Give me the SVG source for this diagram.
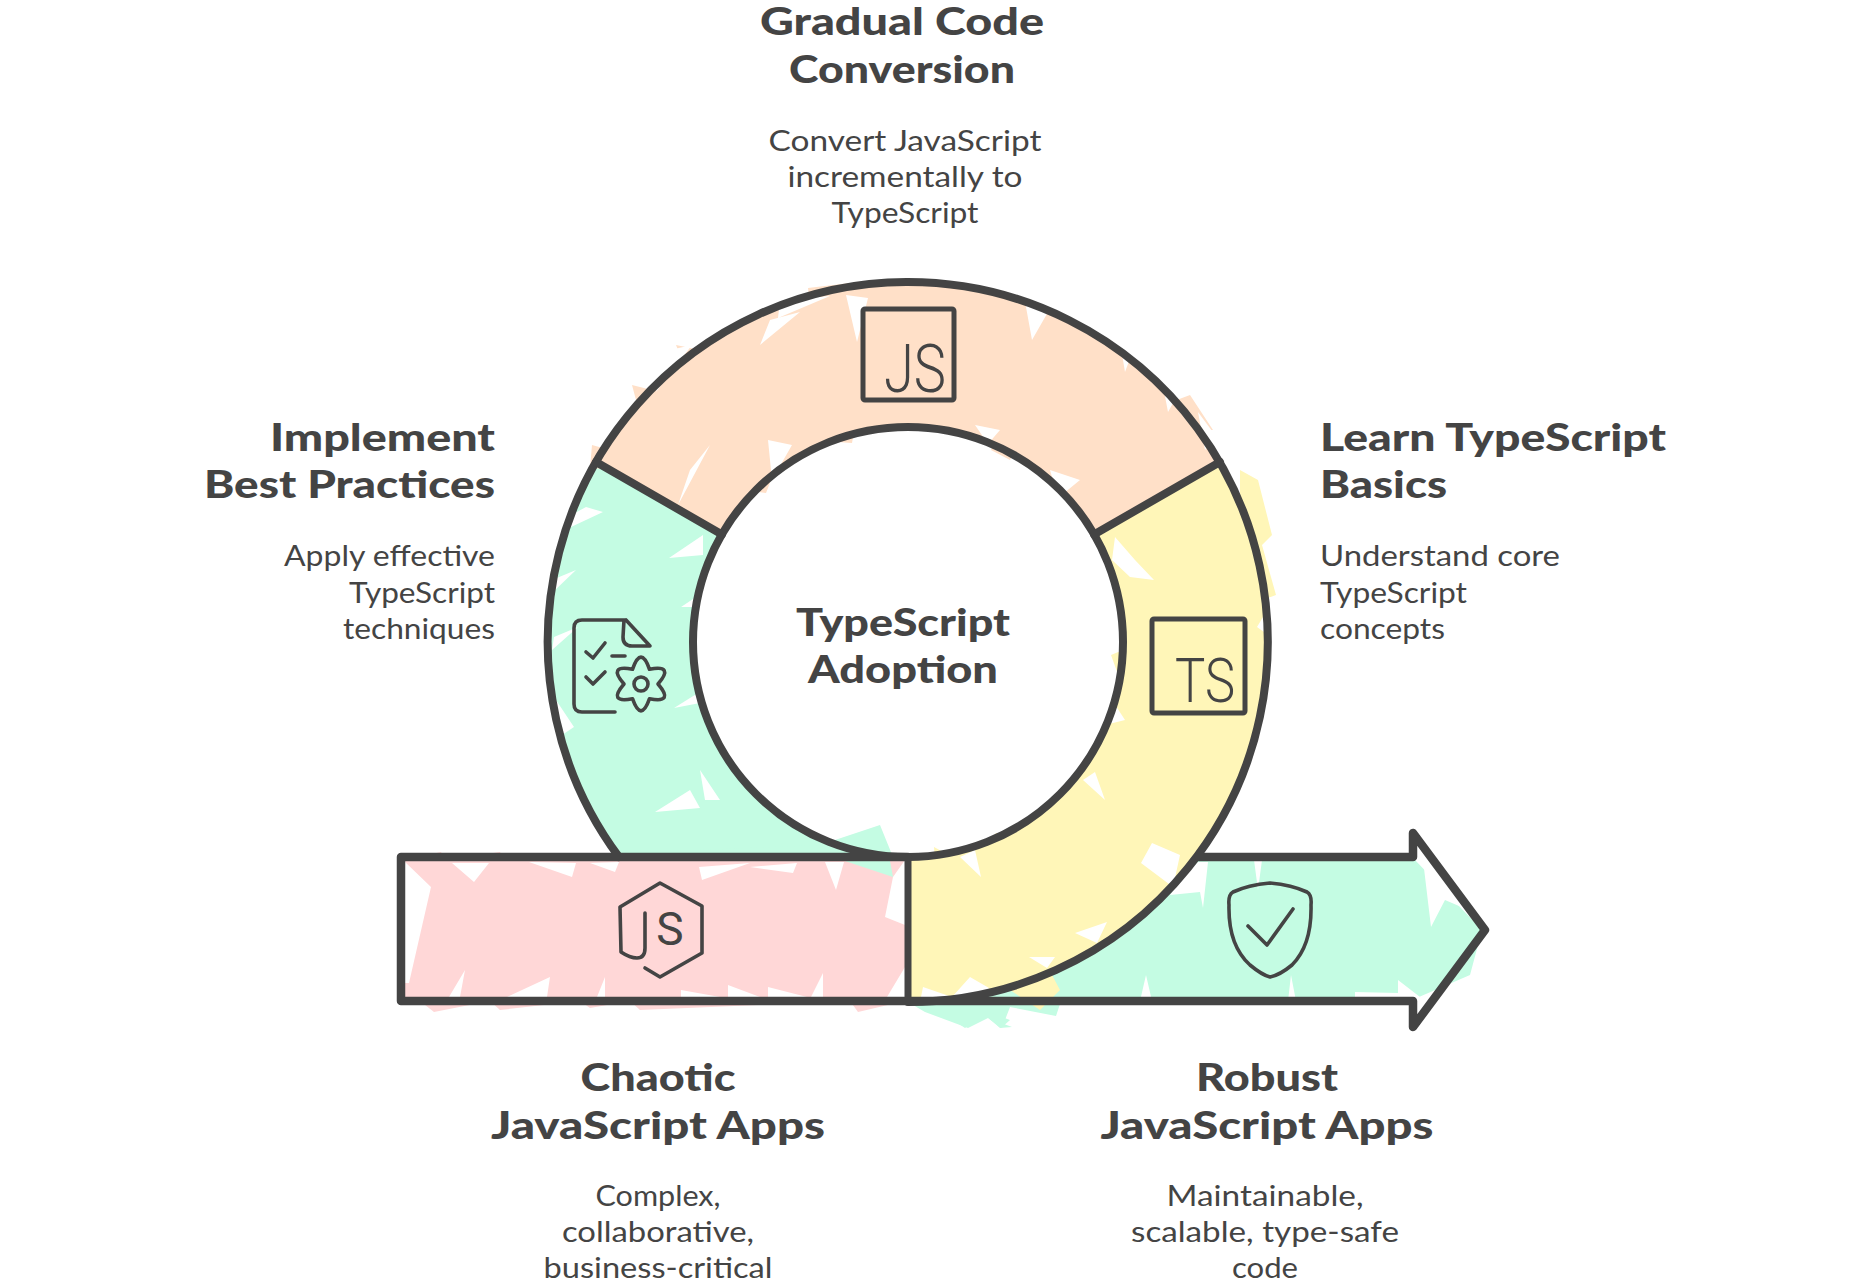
<svg xmlns="http://www.w3.org/2000/svg" width="1873" height="1287" viewBox="0 0 1873 1287">
<style>
.t{font-family:"Lato","Liberation Sans",sans-serif;font-weight:900;font-size:37px;fill:#444}
.d{font-family:"Lato","Liberation Sans",sans-serif;font-weight:400;font-size:29px;fill:#444}
.o{fill:none;stroke:#444;stroke-width:8;stroke-linecap:round;stroke-linejoin:round}
.b{fill:none;stroke:#444;stroke-width:8.5;stroke-linecap:round;stroke-linejoin:round}
.i{fill:none;stroke:#444;stroke-width:3.6;stroke-linecap:round;stroke-linejoin:round}
.g{font-family:"Roboto","Liberation Sans",sans-serif;font-weight:300;fill:#444}
.m{fill:#c4fce3}.p{fill:#ffe0c8}.y{fill:#fff6b8}.r{fill:#ffd7d7}.w{fill:#fff}
.mid{text-anchor:middle}.end{text-anchor:end}
</style>
<rect width="1873" height="1287" fill="#fff"/>

<g id="fills">
  <!-- arrow hachure -->
  <path class="m" d="M905 1001L1190 860L1415 860L1482 930L1470 975L1412 1000L1100 1003L1060 1004L1056 1016L1010 1007L1005 1020L972 1012L1012 1027L1000 1028L985 1015L965 1028L935 1008L908 1004Z"/>
  <path class="m" d="M908 1002L960 1002L1010 1020L1001 1028L988 1018L968 1028L925 1012Z"/>
  <path class="w" d="M1198 862L1208 862L1203 908L1200 892L1170 895L1180 880ZM1262 860L1258 890L1254 860ZM1423 860L1431 927L1445 900L1480 915L1440 855ZM1355 992L1398 993L1398 980L1420 997L1420 1001L1355 1001ZM1288 1001L1291 975L1296 1001ZM1140 1001L1146 975L1152 1001Z"/>
  <!-- ring sectors -->
  <path class="m" d="M596 462A360 360 0 0 0 619 857L908 857A215 215 0 0 1 722 534.5Z"/>
  <path class="m" d="M700 850L820 845L880 825L895 862L720 885Z"/>
  <path class="p" d="M596 462A360 360 0 0 1 1220 462L1094 534.5A215 215 0 0 0 722 534.5Z"/>
  <path class="p" d="M676 345L700 350L715 365L690 380ZM632 385L660 392L665 410L640 415ZM592 445L610 450L620 470L590 468ZM808 288L850 283L850 300L810 305ZM810 440L852 443L856 420L815 425ZM745 490L766 493L775 470L755 470ZM991 450L1010 460L1020 440L1000 430ZM1086 523L1100 525L1100 490L1086 495ZM1150 410L1190 395L1213 430L1170 430Z"/>
  <path class="y" d="M1220 462A360 360 0 0 1 908 1002L908 857A215 215 0 0 0 1094 534.5Z"/>
  <path class="y" d="M1240 470L1258 480L1272 535L1262 545L1276 595L1262 600L1240 560ZM1123 650L1111 655L1120 680L1108 712L1125 700ZM996 833L1010 838L1000 850L985 846ZM934 847L945 853L935 860ZM1010 990L1052 975L1060 990L1040 1010Z"/>
  <!-- inset white slivers -->
  <path class="w" d="M846 295L857 342L868 298ZM1024 296L1032 340L1052 305ZM1118 330L1125 372L1135 345ZM1160 370L1168 412L1185 382ZM1198 412L1205 450L1215 435ZM670 350L656 392L692 345ZM770 320L760 345L800 312ZM768 440L772 480L792 445ZM690 470L678 505L710 445ZM975 425L988 444L1000 430ZM1050 470L1058 498L1080 480ZM780 300L778 318L830 296Z"/>
  <path class="w" d="M586 507L603 512L571 527L562 520ZM552 580L576 570L552 593ZM669 558L703 535L703 555ZM681 607L696 597L694 607ZM554 637L578 627L552 650ZM554 697L574 727L562 735L550 700ZM674 708L698 693L700 703ZM690 790L655 812L700 808ZM700 770L720 800L705 800Z"/>
  <path class="w" d="M1115 537L1135 560L1154 580L1130 577L1112 560ZM1257 627L1271 637L1266 612ZM1110 697L1125 720L1105 725ZM1083 780L1105 800L1095 772ZM1141 863L1173 887L1180 855L1152 843ZM960 857L981 877L975 850ZM1075 933L1097 943L1107 922ZM1029 957L1047 968L1055 957ZM923 987L952 997L970 977L989 988L985 1000L920 1002ZM1250 760L1270 770L1264 790Z"/>
  <!-- pink bar -->
  <path class="r" d="M405 860L441 852L445 860L500 852L505 860L905 858L905 1001L858 1012L850 1001L640 1010L630 1001L590 1008L580 1001L500 1010L490 1001L434 1012L420 1001L405 1000Z"/>
  <path class="m" d="M845 861L890 861L893 877Z"/>
  <path class="w" d="M405 862L431 887L409 983L405 983ZM452 863L474 882L489 863ZM529 862L572 877L576 863ZM590 863L615 872L619 862ZM699 867L702 880L750 863ZM750 867L793 873L797 863ZM836 890L844 862L825 862ZM893 877L905 860L905 925L885 917ZM449 997L465 970L460 997ZM507 997L550 977L547 997ZM597 997L605 977L605 997ZM681 990L720 997L681 997ZM728 985L760 997L728 997ZM768 987L807 997L768 997ZM811 997L823 973L823 997ZM887 997L905 967L905 997Z"/>
</g>

<g id="connectors">
  <path class="o" d="M619 857A360 360 0 1 1 908 1002"/>
  <circle class="o" cx="908" cy="642" r="215"/>
  <path class="o" d="M596 462L722 534.5M1220 462L1094 534.5"/>
  <path class="b" d="M908 857L401 857L401 1001L1413 1001M1413 1001L1413 1027L1485 930L1413 833L1413 857L1199 857"/>
  <path class="o" style="stroke-width:7" d="M908 857L908 1001"/>
</g>

<g id="node-center">
  <text class="t mid" x="903" y="636" textLength="214" lengthAdjust="spacingAndGlyphs">TypeScript</text>
  <text class="t mid" x="903" y="683" textLength="190" lengthAdjust="spacingAndGlyphs">Adoption</text>
</g>

<g id="node-gradual">
  <rect class="i" x="863" y="309" width="91" height="91" rx="2" style="stroke-width:5"/>
  <text class="g" x="884" y="392" font-size="66" textLength="62" lengthAdjust="spacingAndGlyphs">JS</text>
  <text class="t mid" x="902" y="35" textLength="284" lengthAdjust="spacingAndGlyphs">Gradual Code</text>
  <text class="t mid" x="902" y="83" textLength="226" lengthAdjust="spacingAndGlyphs">Conversion</text>
  <text class="d mid" x="905" y="151" textLength="273" lengthAdjust="spacingAndGlyphs">Convert JavaScript</text>
  <text class="d mid" x="905" y="187" textLength="235" lengthAdjust="spacingAndGlyphs">incrementally to</text>
  <text class="d mid" x="905" y="223" textLength="147" lengthAdjust="spacingAndGlyphs">TypeScript</text>
</g>

<g id="node-learn">
  <rect class="i" x="1152" y="619" width="93" height="94" rx="2" style="stroke-width:5"/>
  <text class="g" x="1175" y="702" font-size="62" textLength="60" lengthAdjust="spacingAndGlyphs">TS</text>
  <text class="t" x="1320" y="451" textLength="346" lengthAdjust="spacingAndGlyphs">Learn TypeScript</text>
  <text class="t" x="1320" y="498" textLength="127" lengthAdjust="spacingAndGlyphs">Basics</text>
  <text class="d" x="1320" y="566" textLength="240" lengthAdjust="spacingAndGlyphs">Understand core</text>
  <text class="d" x="1320" y="603" textLength="147" lengthAdjust="spacingAndGlyphs">TypeScript</text>
  <text class="d" x="1320" y="639" textLength="125" lengthAdjust="spacingAndGlyphs">concepts</text>
</g>

<g id="node-implement">
  <path class="i" d="M626 620L582 620Q574 620 574 628L574 704Q574 712 582 712L615 712M626 620L650 646L632 646Q623 646 623 637L624 620M586 652L593 658L605 643M586 677L593 684L605 672M612 656L625 656"/>
  <path class="i" d="M649.5 669.3Q641 645 632.5 669.3Q607.2 664.5 624 684Q607.2 703.5 632.5 698.7Q641 723 649.5 698.7Q674.8 703.5 658 684Q674.8 664.5 649.5 669.3Z"/>
  <circle class="i" cx="641" cy="684" r="7"/>
  <text class="t end" x="495" y="451" textLength="225" lengthAdjust="spacingAndGlyphs">Implement</text>
  <text class="t end" x="495" y="498" textLength="291" lengthAdjust="spacingAndGlyphs">Best Practices</text>
  <text class="d end" x="495" y="566" textLength="211" lengthAdjust="spacingAndGlyphs">Apply effective</text>
  <text class="d end" x="495" y="603" textLength="146" lengthAdjust="spacingAndGlyphs">TypeScript</text>
  <text class="d end" x="495" y="639" textLength="152" lengthAdjust="spacingAndGlyphs">techniques</text>
</g>

<g id="node-chaotic">
  <path class="i" d="M645 913L645 948Q645 958 637 958Q630 958 621 952L620 907L660 883L702 906L702 953L660 977L645 968"/>
  <text class="g" x="670" y="945" font-size="46" text-anchor="middle" style="font-weight:400">S</text>
  <text class="t mid" x="658" y="1091" textLength="155" lengthAdjust="spacingAndGlyphs">Chaotic</text>
  <text class="t mid" x="658" y="1139" textLength="334" lengthAdjust="spacingAndGlyphs">JavaScript Apps</text>
  <text class="d mid" x="658" y="1206" textLength="125" lengthAdjust="spacingAndGlyphs">Complex,</text>
  <text class="d mid" x="658" y="1242" textLength="192" lengthAdjust="spacingAndGlyphs">collaborative,</text>
  <text class="d mid" x="658" y="1278" textLength="229" lengthAdjust="spacingAndGlyphs">business-critical</text>
</g>

<g id="node-robust">
  <path class="i" d="M1270 883Q1248 885 1233 892Q1228 895 1229 905Q1228 945 1250 965Q1262 975 1270 977Q1280 975 1292 965Q1312 945 1311 905Q1312 895 1307 892Q1292 885 1270 883ZM1248 926L1267 945L1293 909"/>
  <text class="t mid" x="1267" y="1091" textLength="142" lengthAdjust="spacingAndGlyphs">Robust</text>
  <text class="t mid" x="1267" y="1139" textLength="333" lengthAdjust="spacingAndGlyphs">JavaScript Apps</text>
  <text class="d mid" x="1265" y="1206" textLength="197" lengthAdjust="spacingAndGlyphs">Maintainable,</text>
  <text class="d mid" x="1265" y="1242" textLength="268" lengthAdjust="spacingAndGlyphs">scalable, type-safe</text>
  <text class="d mid" x="1265" y="1278" textLength="66" lengthAdjust="spacingAndGlyphs">code</text>
</g>
</svg>
